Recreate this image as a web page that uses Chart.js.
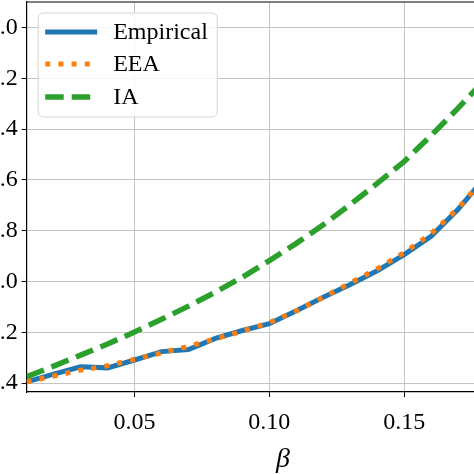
<!DOCTYPE html>
<html>
<head>
<meta charset="utf-8">
<script src="https://cdn.jsdelivr.net/npm/chart.js@4.4.1/dist/chart.umd.min.js"></script>
<style>
  html, body { margin: 0; padding: 0; width: 474px; height: 474px; overflow: hidden; background: #fff; }
  #wrap { position: absolute; left: -40px; top: 0; width: 600px; height: 474px; }
</style>
</head>
<body>
<div id="wrap"><canvas id="c" width="600" height="474"></canvas></div>
<script>
// ---- data ----
const betas = [0.01, 0.02, 0.03, 0.04, 0.05, 0.06, 0.07, 0.08, 0.09, 0.10, 0.11, 0.12, 0.13, 0.14, 0.15, 0.16, 0.17, 0.18];
const empirical = [-2.395, -2.365, -2.336, -2.340, -2.309, -2.276, -2.268, -2.224, -2.193, -2.166, -2.115, -2.062, -2.012, -1.958, -1.894, -1.822, -1.716, -1.590];
const eea = [-2.395, -2.372, -2.349, -2.332, -2.306, -2.281, -2.255, -2.226, -2.196, -2.162, -2.116, -2.062, -2.006, -1.950, -1.886, -1.812, -1.712, -1.590];
const ia = [-2.375, -2.333, -2.290, -2.246, -2.199, -2.149, -2.097, -2.042, -1.983, -1.918, -1.850, -1.777, -1.697, -1.614, -1.528, -1.425, -1.318, -1.205];
const seriesNames = ['Empirical', 'EEA', 'IA'];
const xTicks = [0.05, 0.10, 0.15];
const yTicks = [-2.4, -2.2, -2.0, -1.8, -1.6, -1.4, -1.2, -1.0];
const xTitle = 'β';

const FONT = "'Liberation Serif', 'DejaVu Serif', serif";
const pts = arr => betas.map((b, i) => ({ x: b, y: arr[i] }));

const legendPlugin = {
  id: 'mplLegend',
  afterDraw(chart) {
    const ctx = chart.ctx;
    const a = chart.chartArea;
    ctx.save();
    // top and right spines
    ctx.strokeStyle = '#000';
    ctx.lineWidth = 1.2;
    ctx.beginPath();
    ctx.moveTo(a.left, a.top); ctx.lineTo(a.right, a.top); ctx.lineTo(a.right, a.bottom);
    ctx.stroke();
    // legend box
    const bx = a.left + 11.5, by = 13, bw = 179, bh = 104, r = 5;
    ctx.beginPath();
    ctx.moveTo(bx + r, by);
    ctx.arcTo(bx + bw, by, bx + bw, by + bh, r);
    ctx.arcTo(bx + bw, by + bh, bx, by + bh, r);
    ctx.arcTo(bx, by + bh, bx, by, r);
    ctx.arcTo(bx, by, bx + bw, by, r);
    ctx.closePath();
    ctx.fillStyle = 'rgba(255,255,255,0.85)';
    ctx.fill();
    ctx.strokeStyle = '#d4d4d4';
    ctx.lineWidth = 1;
    ctx.stroke();
    const rowsY = [32, 64, 97];
    chart.data.datasets.forEach((ds, i) => {
      const y = rowsY[i];
      ctx.beginPath();
      ctx.strokeStyle = ds.borderColor;
      ctx.lineWidth = ds.borderWidth;
      ctx.lineCap = 'butt';
      ctx.setLineDash(ds.borderDash || []);
      ctx.moveTo(bx + 7, y);
      ctx.lineTo(bx + 59, y);
      ctx.stroke();
      ctx.setLineDash([]);
      ctx.fillStyle = '#000';
      ctx.font = '24px ' + FONT;
      ctx.textBaseline = 'middle';
      ctx.textAlign = 'left';
      ctx.fillText(ds.label, bx + 75, y + 1);
    });
    ctx.restore();
  }
};

new Chart(document.getElementById('c'), {
  type: 'line',
  data: {
    datasets: [
      { label: seriesNames[0], data: pts(empirical), borderColor: '#1f77b4', borderWidth: 5, order: 2 },
      { label: seriesNames[1], data: pts(eea), borderColor: '#ff7f0e', borderWidth: 5, borderDash: [5, 8.2], order: 1 },
      { label: seriesNames[2], data: pts(ia), borderColor: '#2ca02c', borderWidth: 5.5, borderDash: [18.5, 8], order: 0 }
    ]
  },
  options: {
    responsive: false,
    animation: false,
    devicePixelRatio: 1,
    layout: { padding: { top: 2, right: 21, left: 0, bottom: 0 } },
    elements: { point: { radius: 0, hoverRadius: 0 }, line: { tension: 0, borderCapStyle: 'butt', fill: false } },
    plugins: { legend: { display: false }, tooltip: { enabled: false } },
    scales: {
      x: {
        type: 'linear',
        min: 0.01, max: 0.20,
        afterBuildTicks: s => { s.ticks = xTicks.map(v => ({ value: v })); },
        afterFit: s => { s.height = 82; s.paddingLeft = 0; s.paddingRight = 0; },
        ticks: {
          color: '#000', font: { family: FONT, size: 24 }, padding: 11,
          maxRotation: 0, autoSkip: false,
          callback: v => v.toFixed(2)
        },
        grid: { color: '#c4c4c4', lineWidth: 1, tickColor: '#000', tickLength: 5, tickWidth: 1 },
        border: { color: '#000', width: 1.2 },
        title: { display: true, text: xTitle, color: '#000', font: { family: FONT, size: 28, style: 'italic', lineHeight: 1.05 }, padding: { top: 0, bottom: 0 } }
      },
      y: {
        type: 'linear',
        min: -2.435, max: -0.90,
        afterBuildTicks: s => { s.ticks = yTicks.map(v => ({ value: v })); },
        afterFit: s => { s.width = 66.7; s.paddingTop = 0; s.paddingBottom = 0; },
        ticks: {
          color: '#000', font: { family: FONT, size: 24 }, padding: 4,
          autoSkip: false,
          callback: v => (v < 0 ? '\u2212' : '') + Math.abs(v).toFixed(1)
        },
        grid: { color: '#c4c4c4', lineWidth: 1, tickColor: '#000', tickLength: 5, tickWidth: 1 },
        border: { color: '#000', width: 1.2 }
      }
    }
  },
  plugins: [legendPlugin]
});
</script>
</body>
</html>
